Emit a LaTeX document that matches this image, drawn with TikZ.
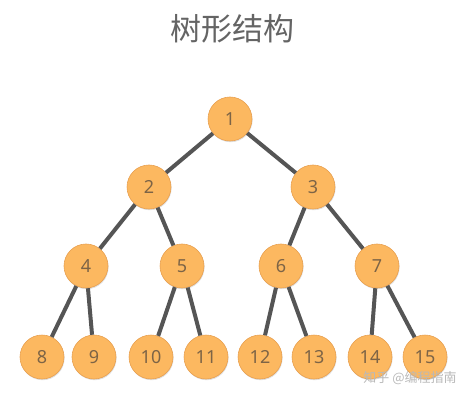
\documentclass[tikz,border=0pt]{standalone}
\usepackage{fontspec}
\newfontfamily\cjk{Noto Sans CJK SC}
\newfontfamily\numfont{Noto Sans}
\usepackage{tikz}
\usetikzlibrary{arrows.meta, calc, shadows}
\definecolor{nodeorange}{RGB}{252,184,96}
\definecolor{nodeedge}{RGB}{232,160,80}
\definecolor{linkgray}{RGB}{85,85,85}
\definecolor{numgray}{RGB}{125,100,70}
\definecolor{titlegray}{RGB}{100,100,100}
\definecolor{markgray}{RGB}{185,185,185}
\tikzset{
  treenode/.style={circle, minimum size=44pt, inner sep=0pt, fill=nodeorange, draw=nodeedge, line width=0.6pt,
    drop shadow={shadow xshift=0.6pt, shadow yshift=-1.2pt, opacity=0.25},
    text=numgray, font=\numfont\fontsize{18}{18}\selectfont},
  link/.style={linkgray, line width=4pt}
}

\begin{document}
\begin{tikzpicture}[x=1pt, y=-1pt]
\useasboundingbox (0,0) rectangle (474,401);
\node[text=titlegray, font=\cjk\fontsize{31}{31}\selectfont] (title) at (232,29) {树形结构};
% tree nodes
\foreach \n/\x/\y in {1/230/119, 2/149/187, 3/313/187,
  4/86/266, 5/182/266, 6/281/266, 7/377/266,
  8/42/357, 9/94/357, 10/151/357, 11/206/357,
  12/260/357, 13/314/357, 14/370/357, 15/425/357}
  \node[treenode] (n\n) at (\x,\y) {\n};
% links
\foreach \a/\b in {1/2, 1/3, 2/4, 2/5, 3/6, 3/7,
  4/8, 4/9, 5/10, 5/11, 6/12, 6/13, 7/14, 7/15}
  \draw[link] (n\a) -- (n\b);
\node[text=markgray, font=\cjk\fontsize{13}{13}\selectfont] (mark) at (410,378) {知乎 @编程指南};
\end{tikzpicture}
\end{document}
